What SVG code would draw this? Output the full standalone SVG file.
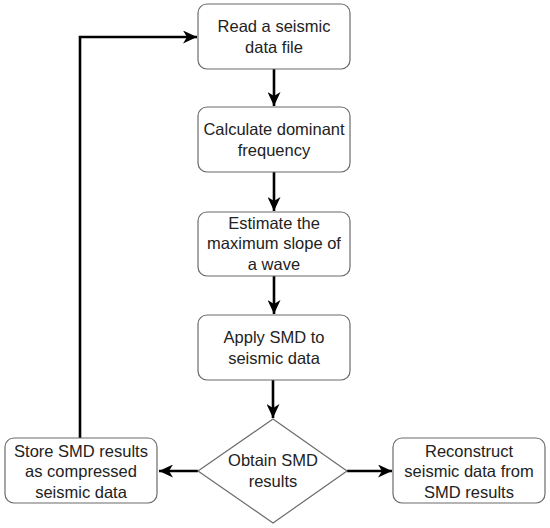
<svg xmlns="http://www.w3.org/2000/svg" width="550" height="528" viewBox="0 0 550 528">
<defs>
<marker id="arr" markerUnits="userSpaceOnUse" markerWidth="15" markerHeight="13" viewBox="0 0 15 13" refX="14" refY="6.5" orient="auto">
<path d="M0,0 L14,6.5 L0,13 L4,6.5 Z" fill="#000"/>
</marker>
<style>
.box{fill:#fff;stroke:#6b6b6b;stroke-width:1.2}
.t{font-family:"Liberation Sans",Arial,sans-serif;font-size:16.5px;fill:#222;text-anchor:middle}
.c{fill:none;stroke:#000;stroke-width:2.6;marker-end:url(#arr)}
</style>
</defs>
<rect width="550" height="528" fill="#fff"/>
<g id="connectors">
<path class="c" d="M274,69 V106"/>
<path class="c" d="M274,172 V211"/>
<path class="c" d="M274,276 V314"/>
<path class="c" d="M273,380 V418"/>
<path class="c" d="M198,471 H159"/>
<path class="c" d="M347,471 H392"/>
<path class="c" d="M80,438 V37 H197"/>
</g>
<g id="n1"><rect class="box" x="198" y="4" width="152" height="65" rx="9"/><text class="t" x="274" y="32">Read a seismic</text><text class="t" x="274" y="52.5">data file</text></g>
<g id="n2"><rect class="box" x="198" y="107" width="152" height="65" rx="9"/><text class="t" x="274" y="135">Calculate dominant</text><text class="t" x="274" y="155.5">frequency</text></g>
<g id="n3"><rect class="box" x="198" y="212" width="152" height="64" rx="9"/><text class="t" x="274" y="228.5">Estimate the</text><text class="t" x="274" y="249">maximum slope of</text><text class="t" x="274" y="269.5">a wave</text></g>
<g id="n4"><rect class="box" x="198" y="315" width="152" height="65" rx="9"/><text class="t" x="274" y="343">Apply SMD to</text><text class="t" x="274" y="363.5">seismic data</text></g>
<g id="n5"><path class="box" d="M273,419 L347,471 L273,523 L198,471 Z"/><text class="t" x="273" y="466">Obtain SMD</text><text class="t" x="273" y="486.5">results</text></g>
<g id="n6"><rect class="box" x="5" y="438" width="152" height="65" rx="9"/><text class="t" x="81" y="456.5">Store SMD results</text><text class="t" x="81" y="477">as compressed</text><text class="t" x="81" y="497.5">seismic data</text></g>
<g id="n7"><rect class="box" x="393" y="438" width="152" height="65" rx="9"/><text class="t" x="469" y="456.5">Reconstruct</text><text class="t" x="469" y="477">seismic data from</text><text class="t" x="469" y="497.5">SMD results</text></g>
</svg>
